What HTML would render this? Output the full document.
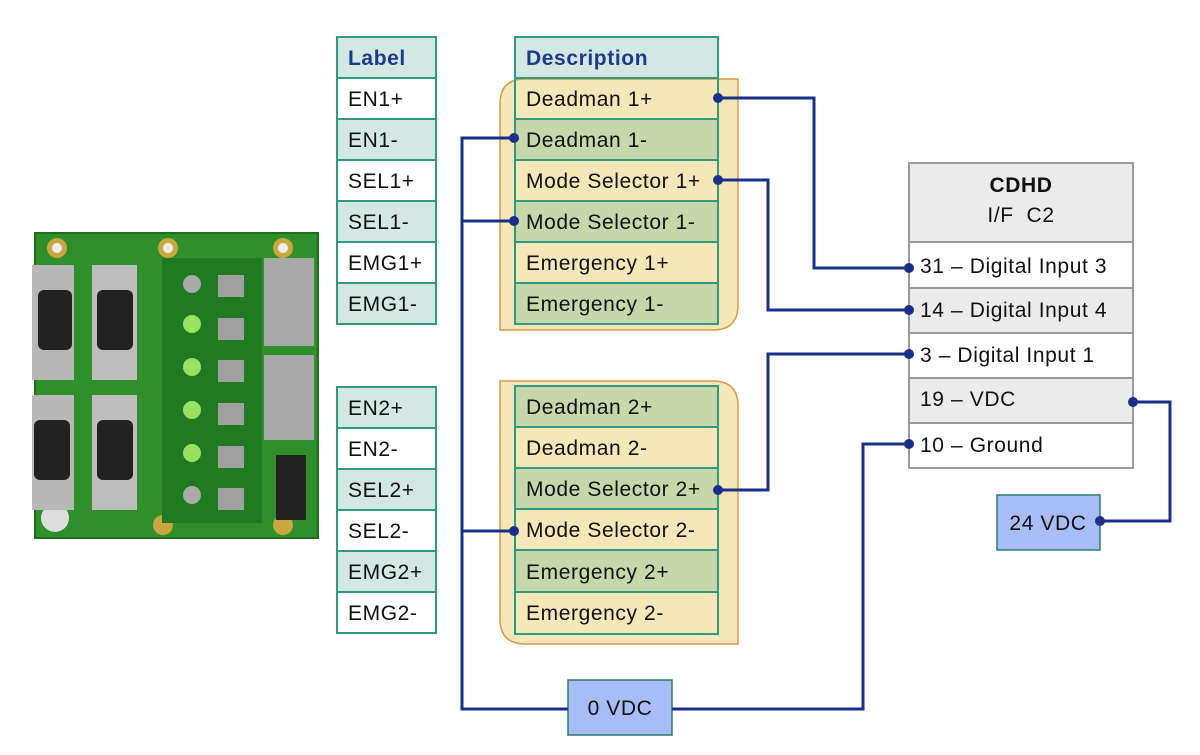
<!DOCTYPE html>
<html><head><meta charset="utf-8"><style>
html,body{margin:0;padding:0;background:#fff;}
svg{display:block}
text{font-family:"Liberation Sans",sans-serif;font-size:21px;letter-spacing:0.6px;fill:#111;}
</style></head><body>
<svg width="1200" height="755" viewBox="0 0 1200 755" xmlns="http://www.w3.org/2000/svg">
<!-- PCB -->
<g>
<rect x="35" y="233" width="283" height="305" fill="#2f8f2a"/>
<rect x="35" y="233" width="283" height="305" fill="none" stroke="#1f6e1c" stroke-width="2"/>
<circle cx="57" cy="248" r="10" fill="#c9a640"/><circle cx="57" cy="248" r="5" fill="#eee"/>
<circle cx="168" cy="248" r="10" fill="#c9a640"/><circle cx="168" cy="248" r="5" fill="#eee"/>
<circle cx="283" cy="248" r="10" fill="#c9a640"/><circle cx="283" cy="248" r="5" fill="#eee"/>
<circle cx="55" cy="518" r="14" fill="#ddd"/>
<circle cx="163" cy="525" r="10" fill="#c9a640"/><circle cx="283" cy="525" r="10" fill="#c9a640"/>
<rect x="32" y="265" width="42" height="115" fill="#b8b8b8"/>
<rect x="38" y="290" width="34" height="60" rx="6" fill="#222"/>
<rect x="92" y="265" width="45" height="115" fill="#bdbdbd"/>
<rect x="97" y="290" width="36" height="60" rx="6" fill="#222"/>
<rect x="32" y="395" width="42" height="115" fill="#b8b8b8"/>
<rect x="34" y="420" width="36" height="60" rx="6" fill="#222"/>
<rect x="92" y="395" width="45" height="115" fill="#bdbdbd"/>
<rect x="97" y="420" width="36" height="60" rx="6" fill="#222"/>
<rect x="162" y="258" width="100" height="265" fill="#1f7a22"/>
<g fill="#9be060"><circle cx="192" cy="324" r="9"/><circle cx="192" cy="367" r="9"/><circle cx="192" cy="410" r="9"/><circle cx="192" cy="453" r="9"/></g>
<g fill="#aaa"><circle cx="192" cy="284" r="9"/><circle cx="192" cy="495" r="9"/></g>
<g fill="#a0a0a0"><rect x="218" y="275" width="26" height="22"/><rect x="218" y="318" width="26" height="22"/><rect x="218" y="360" width="26" height="22"/><rect x="218" y="403" width="26" height="22"/><rect x="218" y="446" width="26" height="22"/><rect x="218" y="488" width="26" height="22"/></g>
<rect x="264" y="258" width="50" height="88" fill="#a8a8a8"/>
<rect x="264" y="355" width="50" height="85" fill="#a8a8a8"/>
<rect x="276" y="455" width="30" height="65" fill="#222"/>
</g>

<g stroke="#2e9a80" stroke-width="2">
<rect x="337" y="37" width="99" height="41" fill="#d3e8e2"/>
<rect x="337" y="78" width="99" height="41" fill="#fff"/>
<rect x="337" y="119" width="99" height="41" fill="#d3e8e2"/>
<rect x="337" y="160" width="99" height="41" fill="#fff"/>
<rect x="337" y="201" width="99" height="41" fill="#d3e8e2"/>
<rect x="337" y="242" width="99" height="41" fill="#fff"/>
<rect x="337" y="283" width="99" height="41" fill="#d3e8e2"/>
<rect x="337" y="387" width="99" height="41" fill="#d3e8e2"/>
<rect x="337" y="428" width="99" height="41" fill="#fff"/>
<rect x="337" y="469" width="99" height="41" fill="#d3e8e2"/>
<rect x="337" y="510" width="99" height="41" fill="#fff"/>
<rect x="337" y="551" width="99" height="41" fill="#d3e8e2"/>
<rect x="337" y="592" width="99" height="41" fill="#fff"/>
</g>
<text x="348" y="65" style="font-weight:bold;fill:#1e3a8a">Label</text>
<text x="348" y="106">EN1+</text><text x="348" y="147">EN1-</text><text x="348" y="188">SEL1+</text>
<text x="348" y="229">SEL1-</text><text x="348" y="270">EMG1+</text><text x="348" y="311">EMG1-</text>
<text x="348" y="415">EN2+</text><text x="348" y="456">EN2-</text><text x="348" y="497">SEL2+</text>
<text x="348" y="538">SEL2-</text><text x="348" y="579">EMG2+</text><text x="348" y="620">EMG2-</text>

<path d="M525 79 H738 V305 Q738 330 713 330 H500 V104 Q500 79 525 79 Z" fill="#f5e7b8" stroke="#d39a4a" stroke-width="1.5"/>
<path d="M500 381 H713 Q738 381 738 406 V644 H525 Q500 644 500 619 Z" fill="#f5e7b8" stroke="#d39a4a" stroke-width="1.5"/>

<g stroke="#2e9a80" stroke-width="2">
<rect x="515" y="37" width="203" height="41" fill="#d3e8e2"/>
<rect x="515" y="78" width="203" height="41" fill="none"/>
<rect x="515" y="119" width="203" height="41" fill="#c8d7aa"/>
<rect x="515" y="160" width="203" height="41" fill="none"/>
<rect x="515" y="201" width="203" height="41" fill="#c8d7aa"/>
<rect x="515" y="242" width="203" height="41" fill="none"/>
<rect x="515" y="283" width="203" height="41" fill="#c8d7aa"/>
<rect x="515" y="386" width="203" height="41" fill="#c8d7aa"/>
<rect x="515" y="427" width="203" height="41" fill="none"/>
<rect x="515" y="468" width="203" height="41" fill="#c8d7aa"/>
<rect x="515" y="509" width="203" height="41" fill="none"/>
<rect x="515" y="550" width="203" height="42" fill="#c8d7aa"/>
<rect x="515" y="592" width="203" height="42" fill="none"/>
</g>
<text x="526" y="65" style="font-weight:bold;fill:#1e3a8a">Description</text>
<text x="526" y="106">Deadman 1+</text><text x="526" y="147">Deadman 1-</text><text x="526" y="188">Mode Selector 1+</text>
<text x="526" y="229">Mode Selector 1-</text><text x="526" y="270">Emergency 1+</text><text x="526" y="311">Emergency 1-</text>
<text x="526" y="414">Deadman 2+</text><text x="526" y="455">Deadman 2-</text><text x="526" y="496">Mode Selector 2+</text>
<text x="526" y="537">Mode Selector 2-</text><text x="526" y="579">Emergency 2+</text><text x="526" y="620">Emergency 2-</text>

<g stroke="#9a9a9a" stroke-width="2">
<rect x="909" y="163" width="224" height="79" fill="#ebebeb"/>
<rect x="909" y="242" width="224" height="46" fill="#fff"/>
<rect x="909" y="288" width="224" height="45" fill="#ebebeb"/>
<rect x="909" y="333" width="224" height="45" fill="#fff"/>
<rect x="909" y="378" width="224" height="45" fill="#ebebeb"/>
<rect x="909" y="423" width="224" height="45" fill="#fff"/>
</g>
<text x="1021" y="192" text-anchor="middle" style="font-weight:bold">CDHD</text>
<text x="1021" y="222" text-anchor="middle">I/F&#160; C2</text>
<text x="920" y="273">31 – Digital Input 3</text>
<text x="920" y="317">14 – Digital Input 4</text>
<text x="920" y="362">3 – Digital Input 1</text>
<text x="920" y="406">19 – VDC</text>
<text x="920" y="452">10 – Ground</text>

<rect x="997" y="495" width="103" height="55" fill="#a8bdf7" stroke="#2e7d6e" stroke-width="1.5"/>
<text x="1048" y="530" text-anchor="middle">24 VDC</text>
<rect x="568" y="680" width="104" height="55" fill="#a8bdf7" stroke="#2e7d6e" stroke-width="1.5"/>
<text x="620" y="715" text-anchor="middle">0 VDC</text>

<g fill="none" stroke="#1a2f8a" stroke-width="3">
<polyline points="718,98 814,98 814,268 908,268"/>
<polyline points="718,180 768,180 768,310 908,310"/>
<polyline points="718,490 768,490 768,354 908,354"/>
<polyline points="1134,402 1170,402 1170,521 1100,521"/>
<polyline points="908,444 863,444 863,709 672,709"/>
<polyline points="514,138 462,138 462,709 568,709"/>
<line x1="462" y1="221" x2="514" y2="221"/>
<line x1="462" y1="531" x2="514" y2="531"/>
</g>
<g fill="#1a2f8a">
<circle cx="718" cy="98" r="5"/><circle cx="718" cy="180" r="5"/><circle cx="718" cy="490" r="5"/>
<circle cx="514" cy="138" r="5"/><circle cx="514" cy="221" r="5"/><circle cx="514" cy="531" r="5"/>
<circle cx="909" cy="268" r="5"/><circle cx="909" cy="310" r="5"/><circle cx="909" cy="354" r="5"/>
<circle cx="909" cy="444" r="5"/><circle cx="1133" cy="402" r="5"/><circle cx="1100" cy="521" r="5"/>
</g>
</svg>
</body></html>
